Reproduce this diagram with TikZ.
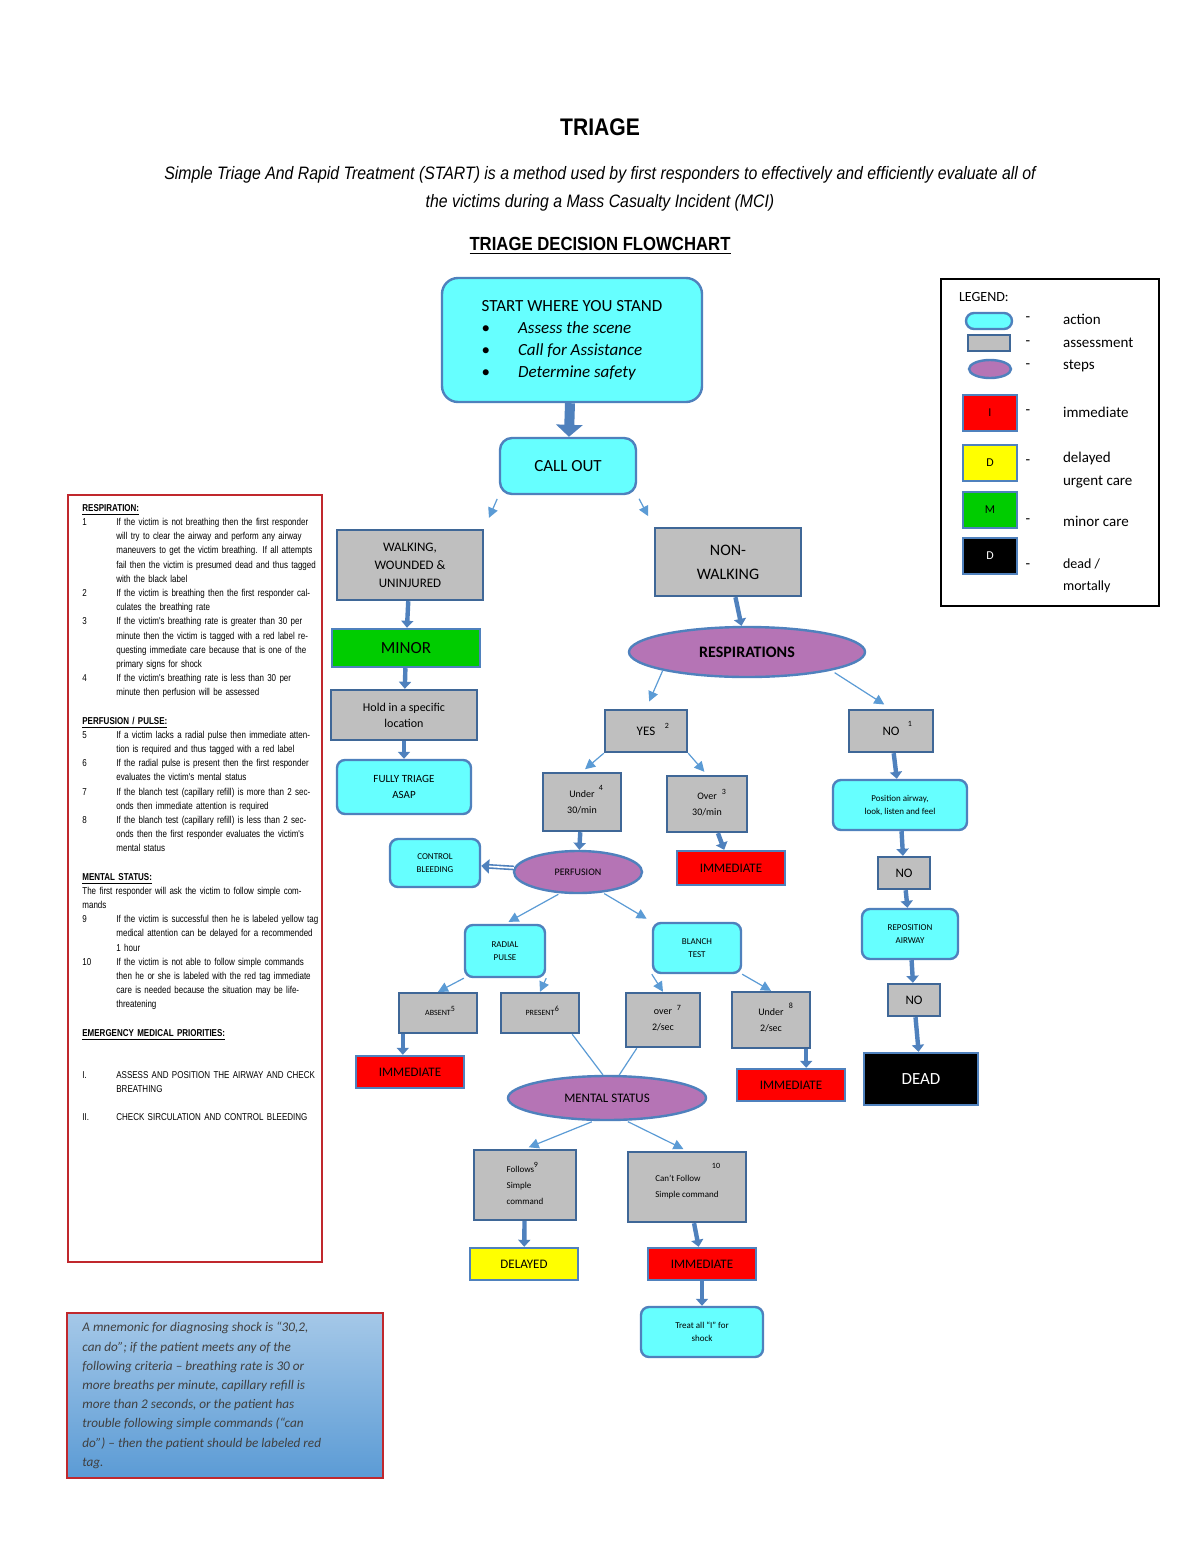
\documentclass[tikz,border=0pt]{standalone}
\usepackage{fontspec}
\setmainfont{Carlito}
\newfontfamily\hdr{Liberation Sans}[FakeStretch=0.88]
\newfontfamily\narrow{Liberation Sans}[FakeStretch=0.8]
\usetikzlibrary{shapes.geometric,arrows.meta}
\definecolor{cy}{HTML}{66FFFF}
\definecolor{bd}{HTML}{4F81BD}
\definecolor{gr}{HTML}{BFBFBF}
\definecolor{pu}{HTML}{B574B5}
\definecolor{ar}{HTML}{5B9BD5}
\definecolor{rd}{HTML}{FF0000}
\definecolor{gn}{HTML}{00CC00}
\definecolor{ye}{HTML}{FFFF00}
\definecolor{dr}{HTML}{C0282D}
\newcommand{\itm}[2]{\par\noindent\hangindent=17pt\hangafter=1\makebox[17pt][l]{#1}#2}
\begin{document}
\begin{tikzpicture}[x=0.5pt,y=-0.5pt,
 act/.style={draw=bd,line width=1.2pt,fill=cy,rounded corners=4pt,align=center,inner sep=0pt},
 ass/.style={draw=bd!80!black,line width=1.2pt,fill=gr,align=center,inner sep=0pt},
 ell/.style={ellipse,draw=bd,line width=1.2pt,fill=pu,align=center,inner sep=0pt},
 tag/.style={draw=bd,line width=1.2pt,align=center,inner sep=0pt},
 thin/.style={draw=ar,line width=0.6pt,-{Triangle[width=5pt,length=5pt]}},
 thk/.style={draw=bd,line width=2.2pt,-{Triangle[width=6pt,length=3.5pt]}},
 sup/.style={font=\fontsize{4}{4}\selectfont}]
\fill[white] (0,0) rectangle (1200,1553);
% titles
\node[font=\hdr\bfseries\fontsize{12}{14}\selectfont] (title) at (600,127) {TRIAGE};
\node[font=\hdr\itshape\fontsize{9}{14}\selectfont,align=center] (sub) at (600,189) {Simple Triage And Rapid Treatment (START) is a method used by first responders to effectively and efficiently evaluate all of\\the victims during a Mass Casualty Incident (MCI)};
\node[font=\hdr\bfseries\fontsize{9.5}{11}\selectfont] (fc) at (600,246) {\underline{TRIAGE DECISION FLOWCHART}};
% main nodes
\node[act,minimum width=130pt,minimum height=62pt,rounded corners=8pt,font=\fontsize{8.5}{12}\selectfont,align=left] (start) at (572,340) {START WHERE YOU STAND\\[-1pt]
\textbullet\hspace{14pt}\itshape Assess the scene\\[-1pt]\textbullet\hspace{14pt}\itshape Call for Assistance\\[-1pt]\textbullet\hspace{14pt}\itshape Determine safety};
\node[act,minimum width=68pt,minimum height=28pt,rounded corners=6pt,font=\fontsize{8.5}{10}\selectfont] (callout) at (568,466) {CALL OUT};
\node[ass,minimum width=73pt,minimum height=35pt,font=\fontsize{6.5}{9}\selectfont] (walk) at (410,565) {WALKING,\\WOUNDED \&\\UNINJURED};
\node[ass,minimum width=73pt,minimum height=34pt,font=\fontsize{8}{12}\selectfont] (nonwalk) at (728,562) {NON-\\WALKING};
\node[tag,fill=gn,minimum width=74pt,minimum height=19pt,font=\fontsize{8.5}{10}\selectfont] (minor) at (406,648) {MINOR};
\node[ass,minimum width=73pt,minimum height=25pt,font=\fontsize{6}{8}\selectfont] (hold) at (404,715) {Hold in a specific\\location};
\node[act,minimum width=67pt,minimum height=27pt,font=\fontsize{5.5}{8}\selectfont] (fully) at (404,787) {FULLY TRIAGE\\ASAP};
\node[ell,minimum width=118pt,minimum height=25pt,font=\bfseries\fontsize{8}{10}\selectfont] (resp) at (747,652) {RESPIRATIONS};
\node[ass,minimum width=41pt,minimum height=21pt,font=\fontsize{6.5}{8}\selectfont] (yes) at (646,731) {YES};
\node[sup] at (667,726) {2};
\node[ass,minimum width=42pt,minimum height=21pt,font=\fontsize{6.5}{8}\selectfont] (no1) at (891,731) {NO};
\node[sup] at (910,724) {1};
\node[ass,minimum width=39pt,minimum height=29pt,font=\fontsize{5}{8}\selectfont] (und4) at (582,802) {Under\\30/min};
\node[sup] at (601,788) {4};
\node[ass,minimum width=40pt,minimum height=28pt,font=\fontsize{5}{8}\selectfont] (ov3) at (707,804) {Over\\30/min};
\node[sup] at (724,792) {3};
\node[tag,fill=rd,minimum width=54pt,minimum height=17pt,font=\fontsize{6.5}{8}\selectfont] (imm1) at (731,868) {IMMEDIATE};
\node[act,minimum width=67pt,minimum height=25pt,font=\fontsize{4.5}{6.5}\selectfont] (pos) at (900,805) {Position airway,\\look, listen and feel};
\node[ass,minimum width=26pt,minimum height=16pt,font=\fontsize{6.5}{8}\selectfont] (no2) at (904,873) {NO};
\node[act,minimum width=48pt,minimum height=25pt,font=\fontsize{4.5}{6.5}\selectfont] (repos) at (910,934) {REPOSITION\\AIRWAY};
\node[ass,minimum width=26pt,minimum height=16pt,font=\fontsize{6.5}{8}\selectfont] (no3) at (914,1000) {NO};
\node[tag,fill=black,text=white,minimum width=57pt,minimum height=26pt,font=\fontsize{8.5}{10}\selectfont] (dead) at (921,1079) {DEAD};
\node[ell,minimum width=64pt,minimum height=21pt,font=\fontsize{5}{6}\selectfont] (perf) at (578,872) {PERFUSION};
\node[act,minimum width=45pt,minimum height=24pt,font=\fontsize{4.5}{6.5}\selectfont] (ctrl) at (435,863) {CONTROL\\BLEEDING};
\node[act,minimum width=40pt,minimum height=26pt,font=\fontsize{4.5}{6.5}\selectfont] (radial) at (505,951) {RADIAL\\PULSE};
\node[act,minimum width=44pt,minimum height=25pt,font=\fontsize{4.5}{6.5}\selectfont] (blanch) at (697,948) {BLANCH\\TEST};
\node[ass,minimum width=39pt,minimum height=20pt,font=\fontsize{4}{6}\selectfont] (absent) at (438,1013) {ABSENT};
\node[sup] at (453,1009) {5};
\node[ass,minimum width=39pt,minimum height=20pt,font=\fontsize{4}{6}\selectfont] (present) at (540,1013) {PRESENT};
\node[sup] at (557,1009) {6};
\node[ass,minimum width=37pt,minimum height=27pt,font=\fontsize{5}{8}\selectfont] (ov7) at (663,1020) {over\\2/sec};
\node[sup] at (679,1008) {7};
\node[ass,minimum width=39pt,minimum height=28pt,font=\fontsize{5}{8}\selectfont] (und8) at (771,1020) {Under\\2/sec};
\node[sup] at (791,1006) {8};
\node[tag,fill=rd,minimum width=54pt,minimum height=16pt,font=\fontsize{6.5}{8}\selectfont] (imm2) at (410,1072) {IMMEDIATE};
\node[tag,fill=rd,minimum width=54pt,minimum height=16pt,font=\fontsize{6.5}{8}\selectfont] (imm3) at (791,1085) {IMMEDIATE};
\node[ell,minimum width=99pt,minimum height=22pt,font=\fontsize{6.5}{8}\selectfont] (mental) at (607,1098) {MENTAL STATUS};
\node[ass,minimum width=51pt,minimum height=35pt,font=\fontsize{4.5}{8}\selectfont,align=left] (follow) at (525,1185) {Follows\\Simple\\command};
\node[sup] at (536,1165) {9};
\node[ass,minimum width=59pt,minimum height=35pt,font=\fontsize{4.5}{8}\selectfont,align=left] (cant) at (687,1187) {Can't Follow\\Simple command};
\node[sup] at (716,1166) {10};
\node[tag,fill=ye,minimum width=54pt,minimum height=16pt,font=\fontsize{6.5}{8}\selectfont] (delayed) at (524,1264) {DELAYED};
\node[tag,fill=rd,minimum width=54pt,minimum height=16pt,font=\fontsize{6.5}{8}\selectfont] (imm4) at (702,1264) {IMMEDIATE};
\node[act,minimum width=61pt,minimum height=25pt,font=\fontsize{4.5}{6.5}\selectfont] (treat) at (702,1332) {Treat all ``I'' for\\shock};
% connectors
\draw[draw=bd,line width=5pt,-{Triangle[width=13pt,length=6pt]}] (start) -- (callout);
\draw[thin,shorten <=2pt,shorten >=6pt] (callout.south west) -- (walk.north east);
\draw[thin,shorten <=2pt,shorten >=6pt] (callout.south east) -- (nonwalk.north west);
\draw[thk] (walk) -- (minor);
\draw[thk] (minor) -- (hold);
\draw[thk] (hold) -- (fully);
\draw[thk] (nonwalk) -- (resp);
\draw[thin,shorten >=4pt] (resp.south west) ++(0,0) -- (yes.north);
\draw[thin,shorten <=2pt,shorten >=4pt] (resp.south east) -- (no1.north);
\draw[thin,shorten >=2pt] (yes.south west) -- (und4.north);
\draw[thin,shorten >=2pt] (yes.south east) -- (ov3.north);
\draw[thk] (und4) -- (perf);
\draw[thk] (ov3) -- (imm1);
\draw[thk] (no1) -- (pos);
\draw[thk] (pos) -- (no2);
\draw[thk] (no2) -- (repos);
\draw[thk] (repos) -- (no3);
\draw[thk] (no3) -- (dead);
\draw[draw=bd,line width=2.4pt,-{Triangle[width=7pt,length=4pt]}] (perf) -- (ctrl);
\draw[draw=white,line width=0.8pt,shorten >=4pt] (perf) -- (ctrl);
\draw[thin,shorten <=1pt,shorten >=2pt] (perf.-130) -- (radial.north);
\draw[thin,shorten <=1pt,shorten >=3pt] (perf.-40) -- (blanch.north west);
\draw[thin] (radial.south west) -- (absent.north);
\draw[thin] (radial.south east) -- (present.north);
\draw[thin] (blanch.south west) -- (ov7.north);
\draw[thin] (blanch.south east) -- (und8.north);
\draw[thk] (absent.south west) ++(5,0) coordinate (a1) -- (a1 |- imm2.north);
\draw[thk] (und8.south east) ++(-5,0) coordinate (u1) -- (u1 |- imm3.north);
\draw[draw=ar,line width=0.6pt] (present.south east) ++(-8,0) coordinate (p1) -- (mental.100);
\draw[draw=ar,line width=0.6pt] (ov7.south west) ++(12,0) coordinate (o1) -- (mental.62);
\draw[thin,shorten <=1pt,shorten >=2pt] (mental.-120) -- (follow.north);
\draw[thin,shorten <=1pt,shorten >=2pt] (mental.-50) -- (cant.north);
\draw[thk] (follow) -- (delayed);
\draw[thk] (cant) -- (imm4);
\draw[thk] (imm4) -- (treat);
% legend
\draw[line width=0.6pt] (941,279) rectangle (1159,606);
\node[anchor=west,font=\fontsize{7}{8}\selectfont] (lg) at (952,297) {LEGEND:};
\node[act,minimum width=23pt,minimum height=8pt] (l1) at (989,321) {};
\node[ass,minimum width=21pt,minimum height=8pt] (l2) at (989,343) {};
\node[ell,minimum width=21pt,minimum height=9pt] (l3) at (990,369) {};
\node[tag,fill=rd,minimum width=27pt,minimum height=18pt,font=\fontsize{6}{7}\selectfont] (l4) at (990,413) {I};
\node[tag,fill=ye,minimum width=27pt,minimum height=18pt,font=\fontsize{6}{7}\selectfont] (l5) at (990,463) {D};
\node[tag,fill=gn,minimum width=27pt,minimum height=18pt,font=\fontsize{6}{7}\selectfont] (l6) at (990,510) {M};
\node[tag,fill=black,text=white,minimum width=27pt,minimum height=18pt,font=\fontsize{6}{7}\selectfont] (l7) at (990,556) {D};
\foreach \y/\t [count=\i] in {319/action,343/assessment,366/steps,412/immediate,521/minor care}{
 \node[font=\fontsize{7.5}{9}\selectfont] (d\i) at (1028,\y) {-};
 \node[anchor=west,font=\fontsize{7.5}{9}\selectfont] (t\i) at (1056,\y) {\t};}
\node[font=\fontsize{7.5}{9}\selectfont] (d6) at (1028,462) {-};
\node[anchor=west,font=\fontsize{7.5}{11.5}\selectfont,align=left] (t6) at (1056,470) {delayed\\urgent care};
\node[font=\fontsize{7.5}{9}\selectfont] (d7) at (1028,566) {-};
\node[anchor=west,font=\fontsize{7}{11}\selectfont,align=left] (t7) at (1056,576) {dead /\\mortally};
% left panel
\draw[dr,line width=0.7pt] (68,495) rectangle (322,1262);
\node[anchor=north west,inner sep=0pt,text width=118pt,font=\narrow\fontsize{5}{7.1}\selectfont] (panel) at (82,504) {%
\textbf{\underline{RESPIRATION:}}
\itm{1}{If the victim is not breathing then the first responder will try to clear the airway and perform any airway maneuvers to get the victim breathing. If all attempts fail then the victim is presumed dead and thus tagged with the black label}
\itm{2}{If the victim is breathing then the first responder calculates the breathing rate}
\itm{3}{If the victim's breathing rate is greater than 30 per minute then the victim is tagged with a red label requesting immediate care because that is one of the primary signs for shock}
\itm{4}{If the victim's breathing rate is less than 30 per minute then perfusion will be assessed}
\par\vspace{7pt}\noindent\textbf{\underline{PERFUSION / PULSE:}}
\itm{5}{If a victim lacks a radial pulse then immediate attention is required and thus tagged with a red label}
\itm{6}{If the radial pulse is present then the first responder evaluates the victim's mental status}
\itm{7}{If the blanch test (capillary refill) is more than 2 seconds then immediate attention is required}
\itm{8}{If the blanch test (capillary refill) is less than 2 seconds then the first responder evaluates the victim's mental status}
\par\vspace{7pt}\noindent\textbf{\underline{MENTAL STATUS:}}
\par\noindent The first responder will ask the victim to follow simple commands
\itm{9}{If the victim is successful then he is labeled yellow tag medical attention can be delayed for a recommended 1 hour}
\itm{10}{If the victim is not able to follow simple commands then he or she is labeled with the red tag immediate care is needed because the situation may be life-threatening}
\par\vspace{7pt}\noindent\textbf{\underline{EMERGENCY MEDICAL PRIORITIES:}}
\par\vspace{7pt}\hspace*{-3pt}\itm{I.}{ASSESS AND POSITION THE AIRWAY AND CHECK BREATHING}
\par\vspace{7pt}\itm{II.}{CHECK SIRCULATION AND CONTROL BLEEDING}};
% mnemonic
\shade[top color=ar!55!white,bottom color=ar] (67,1313) rectangle (383,1478);
\draw[dr,line width=0.7pt] (67,1313) rectangle (383,1478);
\node[anchor=north west,inner sep=0pt,align=left,font=\itshape\fontsize{6.6}{9.6}\selectfont,text=black!75] (mn) at (82,1322) {A mnemonic for diagnosing shock is ``30,2,\\can do''; if the patient meets any of the\\following criteria -- breathing rate is 30 or\\more breaths per minute, capillary refill is\\more than 2 seconds, or the patient has\\trouble following simple commands (``can\\do'') -- then the patient should be labeled red\\tag.};
\end{tikzpicture}
\end{document}
